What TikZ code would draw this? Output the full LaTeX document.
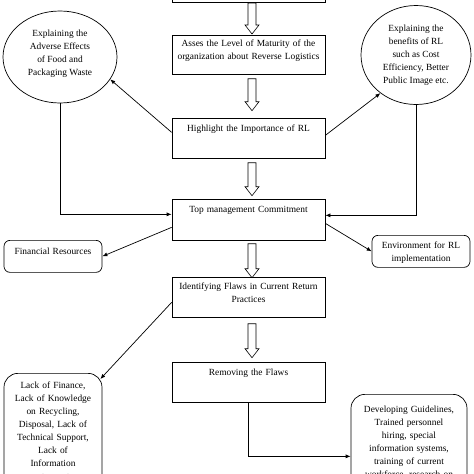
\documentclass[tikz,border=0pt]{standalone}
\usepackage{fontspec}
\setmainfont{Liberation Serif}
\usetikzlibrary{shapes.geometric,arrows.meta,calc}
\begin{document}
\begin{tikzpicture}[x=1pt,y=-1pt,
  every node/.style={font=\fontsize{9.4}{13}\selectfont},
  box/.style={draw, line width=0.7pt, rectangle, text width=153pt, align=center, inner xsep=0pt, inner ysep=0pt, anchor=north},
  rbox/.style={draw, line width=0.7pt, rounded corners=6pt, align=center, inner xsep=2pt, inner ysep=0pt, anchor=north},
  oval/.style={draw, line width=0.7pt, ellipse, align=center, inner sep=0pt},
  arr/.style={line width=0.7pt, -{Latex[length=5pt,width=4pt]}},
  pics/hol/.style={code={\draw[line width=0.6pt] (-4,0) -- (-4,#1-9) -- (-7,#1-9) -- (0,#1) -- (7,#1-9) -- (4,#1-9) -- (4,0) -- cycle;}}
]
\useasboundingbox (0,0) rectangle (474,474);
\clip (0,0) rectangle (474,474);

% main column
\node[draw, line width=0.7pt, minimum width=153pt, minimum height=40pt, inner sep=0pt, anchor=south] (b1) at (248.5,3) {};
\node[box, text height=11.5pt, text depth=27.5pt] (b2) at (248.5,35) {Asses the Level of Maturity of the\\organization about Reverse Logistics};
\node[box, text height=13pt, text depth=27pt] (b3) at (248.5,118) {Highlight the Importance of RL};
\node[box, text height=13pt, text depth=28pt] (b4) at (248.5,199) {Top management Commitment};
\node[box, text height=12pt, text depth=28pt] (b5) at (248.5,277) {Identifying Flaws in Current Return\\Practices};
\node[box, text height=13pt, text depth=27pt] (b6) at (248.5,362) {Removing the Flaws};

% side shapes
\node[oval, minimum width=114pt, minimum height=92pt] (le) at (60,57) {Explaining the\\Adverse Effects\\of Food and\\Packaging Waste\\[-5pt]\mbox{}};
\node[oval, minimum width=110pt, minimum height=99pt] (re) at (416,55) {Explaining the\\benefits of RL\\such as Cost\\Efficiency, Better\\Public Image etc.};
\node[rbox, text width=94pt, text height=14pt, text depth=18pt] (fin) at (53,240) {Financial Resources};
\node[rbox, text width=94pt, text height=13pt, text depth=19pt] (env) at (421,235) {Environment for RL\\implementation};
\node[rbox, rounded corners=14pt, text width=94pt, text height=15pt, text depth=105pt] (lack) at (53,373) {Lack of Finance,\\Lack of Knowledge\\on Recycling,\\Disposal, Lack of\\Technical Support,\\Lack of\\Information\\systems etc.};
\node[rbox, rounded corners=14pt, text width=112pt, text height=18pt, text depth=106pt] (dev) at (409,394) {Developing Guidelines,\\Trained personnel\\hiring, special\\information systems,\\training of current\\workforce, research on};

% hollow arrows
\pic at ($(b1.south)+(3.5,0)$) {hol=31};
\pic at ($(b2.south)+(3.5,4)$) {hol=32};
\pic at ($(b3.south)+(3.5,4)$) {hol=33};
\pic at ($(b4.south)+(3.5,3)$) {hol=34};
\pic at ($(b5.south)+(3.5,6)$) {hol=34};

% connectors
\draw[arr] ($(b3.west)+(0,-6)$) -- (le.-24);
\draw[arr] ($(b3.east)+(0,-3)$) -- (re.227);
\draw[arr] (le.south) |- ($(b4.west)+(0,-5.5)$);
\draw[arr] (re.south) |- ($(b4.east)+(0,-4.5)$);
\draw[arr] ($(b4.west)+(0,7.5)$) -- (fin.east);
\draw[arr] ($(b4.east)+(0,3.5)$) -- (env.west);
\draw[arr] ($(b5.west)+(0,5)$) -- ($(lack.north east)+(-2,6)$);
\draw[arr] (b6.south) |- (dev.west);
\end{tikzpicture}
\end{document}
